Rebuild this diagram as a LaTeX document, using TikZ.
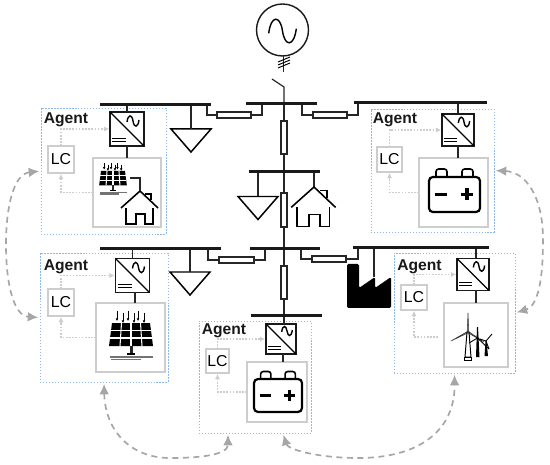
\documentclass[tikz,border=0pt]{standalone}
\usepackage{fontspec}
\usetikzlibrary{arrows.meta}
\setmainfont{Liberation Sans}
\definecolor{framecol}{HTML}{8FB8EA}
\definecolor{boxcol}{HTML}{CDCDCD}
\definecolor{linkcol}{HTML}{A6A6A6}
\def\px{0.02cm}
\tikzset{
  busbar/.style={fill=black!90,inner sep=0pt,outer sep=0pt},
  resbox/.style={draw=black!85,fill=white,line width=0.7pt,inner sep=0pt,outer sep=0pt},
  convbox/.style={draw=black!90,fill=white,line width=0.8pt,inner sep=0pt,outer sep=0pt},
  lcbox/.style={draw=boxcol,fill=white,line width=0.65pt,inner sep=0pt,outer sep=0pt,font=\fontsize{9}{10}\selectfont},
  iconbox/.style={draw=boxcol,fill=white,line width=0.65pt,inner sep=0pt,outer sep=0pt},
  agentbox/.style={draw=framecol,line width=0.5pt,dash pattern=on 0.8pt off 0.9pt,inner sep=0pt,outer sep=0pt},
  agentname/.style={anchor=base west,inner sep=0pt,font=\fontsize{8.9}{10}\bfseries\selectfont,text=black!90},
  wire/.style={draw=black!85,line width=0.65pt},
  ctrl/.style={draw=boxcol,line width=0.6pt,dash pattern=on 0.9pt off 0.9pt,-{Latex[length=3pt,width=3pt]},shorten >=0.5pt},
  peer/.style={draw=linkcol,line width=0.95pt,dash pattern=on 3.4pt off 2.6pt,{Latex[length=6pt,width=5.5pt]}-{Latex[length=6pt,width=5.5pt]},shorten <=1pt,shorten >=1pt},
  tilde/.pic={\draw[line width=0.8pt] (-6,1) .. controls (-5,-7) and (-1,-7) .. (0,0) .. controls (1,7) and (5,7) .. (6,-1);},
  solar/.pic={
    \fill[black] (-19,0) -- (19,0) -- (22,23) -- (-22,23) -- cycle;
    \foreach \i in {-1,0,1} \draw[white,line width=0.6pt] ({\i*9.5},0) -- ({\i*11},23);
    \foreach \j in {7.5,15} \draw[white,line width=0.6pt] ({-19-\j*3/23},\j) -- ({19+\j*3/23},\j);
    \foreach \ax/\ay in {-14/-12,-8/-10,-3/-12,3/-10,7/-12,13/-10}
      \draw[line width=0.35pt,-{Latex[length=1.5pt,width=1.5pt]}] (\ax,\ay) -- (\ax,{\ay+10});
    \fill[black!85] (-1.5,23) rectangle (1.5,30);
    \fill[black] (-4,29.5) rectangle (4,32);
    \draw[black!55,line width=0.6pt] (-21,34) -- (22,34);
    \draw[black!55,line width=0.6pt] (-20,36.5) -- (10,36.5);
  },
  house/.pic={
    \draw[line width=0.9pt,line join=miter] (-19,17) -- (0,0) -- (18,17);
    \draw[line width=0.9pt] (5,3) -- (11,3) -- (11,9);
    \draw[line width=0.9pt] (-14,17) -- (-14,33) -- (-4,33) -- (-4,23) -- (5,23) -- (5,33) -- (13,33) -- (13,17);
  },
  battery/.pic={
    \draw[line width=1.25pt,rounded corners=2.2pt] (-25.5,-17.5) rectangle (25.5,17.5);
    \draw[line width=0.9pt,rounded corners=1.5pt] (-18.5,-17.5) -- (-18.5,-25.5) -- (-7.5,-25.5) -- (-7.5,-17.5);
    \draw[line width=0.9pt,rounded corners=1.5pt] (7.5,-17.5) -- (7.5,-25.5) -- (18.5,-25.5) -- (18.5,-17.5);
    \draw[line width=1.9pt] (-19.5,0) -- (-7.5,0);
    \draw[line width=1.9pt] (6.5,0) -- (18.5,0);
    \draw[line width=1.9pt] (12.5,-6) -- (12.5,6);
  },
  turbine/.pic={
    \filldraw[black!80,fill=black!35,line width=0.3pt] (-0.8,0) -- (0,-19) -- (0.8,0) -- cycle;
    \filldraw[black!80,fill=black!35,line width=0.3pt] (0,-0.8) -- (-17,9) -- (0,0.8) -- cycle;
    \filldraw[black!80,fill=black!35,line width=0.3pt] (0,-0.8) -- (16,10) -- (0,0.8) -- cycle;
    \draw[line width=0.55pt] (-1,0) -- (-3,25) -- (3,25) -- (1,0);
    \draw[line width=0.55pt] (-3.5,25) rectangle (3.5,28);
  },
}
% rectangle from corner to corner
\newcommand{\rectnode}[7]{\node[#1,minimum width={(#5-#3)*\px},minimum height={(#6-#4)*\px}] (#2) at ({(#3+#5)/2},{(#4+#6)/2}) {#7};}
\newcommand{\convnode}[4]{%
  \node[convbox,minimum size={#4*\px}] (#1) at (#2,#3) {};
  \draw[line width=0.7pt] (#1.north west) -- (#1.south east);
  \pic[scale=#4/34] at ([xshift=6*\px,yshift=8*\px]#1.center) {tilde};
  \draw[line width=0.5pt] ([xshift=2*\px,yshift=8*\px]#1.south west) -- ++({#4*0.42},0);
  \draw[line width=0.5pt] ([xshift=2*\px,yshift=5*\px]#1.south west) -- ++({#4*0.42},0);}
\newcommand{\loadtri}[3]{%
  \coordinate (#1) at (#2,#3);
  \draw[line width=0.85pt] (#1) ++(-20,0) -- ++(40,0) -- ++(-20,23) -- cycle;}
\begin{document}
\begin{tikzpicture}[x=0.02cm,y=-0.02cm,line cap=butt]
  \useasboundingbox (0,0) rectangle (550,465);
  % bus bars
  \rectnode{busbar}{busa}{100}{103.5}{211}{106.5}{}
  \rectnode{busbar}{busb}{246}{102.5}{317}{105.5}{}
  \rectnode{busbar}{busr}{354}{101.5}{487}{104.5}{}
  \rectnode{busbar}{busm}{249}{170.5}{320}{173.5}{}
  \rectnode{busbar}{busc}{100}{247.5}{221}{250.5}{}
  \rectnode{busbar}{busd}{250}{247.5}{320}{250.5}{}
  \rectnode{busbar}{buse}{353}{246.5}{489}{249.5}{}
  \rectnode{busbar}{busf}{251}{314.5}{322}{317.5}{}
  % source
  \node[circle,draw=black!90,line width=0.8pt,minimum size={52*\px},inner sep=0pt,outer sep=0pt] (gen) at (282.5,30) {};
  \pic[scale=2.3] at (282.5,31) {tilde};
  \coordinate (swtop) at (272,79);
  \coordinate (swpin) at (284,87);
  \coordinate (genend) at (283.5,72);
  \draw[wire] (gen.south -| genend) -- (genend);
  \foreach \dy in {0,3,6} \draw[line width=0.55pt] (278,{62+\dy}) -- (290,{57+\dy});
  \draw[wire] (swtop) -- (swpin) -- (swpin |- busb.north);
  % line elements
  \rectnode{resbox}{rva}{281}{121}{287}{154}{}
  \rectnode{resbox}{rvb}{281}{193}{287}{227}{}
  \rectnode{resbox}{rvc}{281}{266}{287}{299}{}
  \rectnode{resbox}{rha}{217}{112}{251}{118}{}
  \rectnode{resbox}{rhb}{313}{112}{347}{118}{}
  \rectnode{resbox}{rhc}{219}{257}{254}{263}{}
  \rectnode{resbox}{rhd}{312}{256}{346}{262}{}
  \draw[wire] (rva.north) -- (rva.north |- busb.south);
  \draw[wire] (rva.south) -- (rva.south |- busm.north);
  \draw[wire] (rvb.north) -- (rvb.north |- busm.south);
  \draw[wire] (rvb.south) -- (rvb.south |- busd.north);
  \draw[wire] (rvc.north) -- (rvc.north |- busd.south);
  \draw[wire] (rvc.south) -- (rvc.south |- busf.north);
  \draw[wire] ([xshift=-4*\px]busa.south east) |- (rha.west);
  \draw[wire] (rha.east) -| ([xshift=16*\px]busb.south west);
  \draw[wire] ([xshift=-15*\px]busb.south east) |- (rhb.west);
  \draw[wire] (rhb.east) -| ([xshift=4*\px]busr.south west);
  \draw[wire] ([xshift=-13*\px]busc.south east) |- (rhc.west);
  \draw[wire] (rhc.east) -| ([xshift=15*\px]busd.south west);
  \draw[wire] ([xshift=-19*\px]busd.south east) |- (rhd.west);
  \draw[wire] (rhd.east) -| ([xshift=5*\px]buse.south west);
  % loads
  \loadtri{loada}{191}{129}
  \loadtri{loadm}{258}{196.5}
  \loadtri{loadc}{190}{272}
  \draw[wire] (loada) -- (loada |- busa.south);
  \draw[wire] (loadm) -- (loadm |- busm.south);
  \draw[wire] (loadc) -- (loadc |- busc.south);
  \coordinate (housem) at (314,187);
  \draw[wire] (housem) -- (housem |- busm.south);
  \pic[scale=1.2] at (housem) {house};
  \coordinate (factory) at (374,277);
  \draw[wire] (factory) -- (factory |- buse.south);
  \fill[black,rounded corners=0.8pt] (347,264) -- (359,264) -- (359,288) -- (375,277) -- (375,288) -- (391,277) -- (391,308) -- (347,308) -- cycle;
  % agents
  \rectnode{agentbox}{agenta}{41}{108}{166}{234}{}
  \rectnode{agentbox}{agentb}{371}{109}{494}{232}{}
  \rectnode{agentbox}{agentc}{40}{253}{168}{382}{}
  \rectnode{agentbox}{agentd}{394}{253}{515}{373}{}
  \rectnode{agentbox}{agente}{199}{321}{311}{433}{}
  \node[agentname] (namea) at (43.5,124) {Agent};
  \node[agentname] (nameb) at (372.5,124) {Agent};
  \node[agentname] (namec) at (43.5,271) {Agent};
  \node[agentname] (named) at (397,271) {Agent};
  \node[agentname] (namee) at (201.5,335) {Agent};
  \convnode{conva}{127}{129}{34}
  \convnode{convb}{458}{130}{32}
  \convnode{convc}{132.5}{275.5}{34}
  \convnode{convd}{473}{274.5}{32}
  \convnode{conve}{281}{339}{30}
  \rectnode{lcbox}{lca}{48}{146}{74}{173}{LC}
  \rectnode{lcbox}{lcb}{377}{147}{402}{172}{LC}
  \rectnode{lcbox}{lcc}{48}{289}{74}{316}{LC}
  \rectnode{lcbox}{lcd}{401}{285}{427}{310}{LC}
  \rectnode{lcbox}{lce}{206}{349}{229}{373}{LC}
  \rectnode{iconbox}{boxa}{93}{158}{161}{227}{}
  \rectnode{iconbox}{boxb}{419}{158}{488}{227}{}
  \rectnode{iconbox}{boxc}{96}{303}{165}{372}{}
  \rectnode{iconbox}{boxd}{444}{303}{508}{367}{}
  \rectnode{iconbox}{boxe}{247}{362}{307}{422}{}
  \draw[wire] (conva.north) -- (conva.north |- busa.south);
  \draw[wire] (conva.south) -- (conva.south |- boxa.north);
  \draw[wire] (convb.north) -- (convb.north |- busr.south);
  \draw[wire] (convb.south) -- (convb.south |- boxb.north);
  \draw[wire] (convc.north) -- (convc.north |- busc.south);
  \draw[wire] ([xshift=2.5*\px]convc.south) -- ([xshift=2.5*\px]convc.south |- boxc.north);
  \draw[wire] ([xshift=3*\px]convd.north) -- ([xshift=3*\px]convd.north |- buse.south);
  \draw[wire] ([xshift=3*\px]convd.south) -- ([xshift=3*\px]convd.south |- boxd.north);
  \draw[wire] ([xshift=3*\px]conve.north) -- ([xshift=3*\px]conve.north |- busf.south);
  \draw[wire] ([xshift=2*\px]conve.south) -- ([xshift=2*\px]conve.south |- boxe.north);
  % control paths
  \coordinate (tapd) at (438,337);
  \draw[ctrl] (lca.north) |- (conva.west);
  \draw[ctrl] (boxa.west) -| (lca.south);
  \draw[ctrl] (lcb.north) |- (convb.west);
  \draw[ctrl] (boxb.west) -| (lcb.south);
  \draw[ctrl] (lcc.north) |- (convc.west);
  \draw[ctrl] (boxc.west) -| (lcc.south);
  \draw[ctrl] (lcd.north) |- (convd.west);
  \draw[ctrl] (tapd) -| (lcd.south);
  \draw[ctrl] (lce.north) |- (conve.west);
  \draw[ctrl] (boxe.west) -| (lce.south);
  % icons
  \pic[scale=0.63] at (113,171) {solar};
  \pic at (140,191) {house};
  \draw[wire,line width=0.9pt] (130,178) -- (140,178) -- (140,191);
  \pic at (454.5,194.5) {battery};
  \pic at (131,323) {solar};
  \pic[scale=0.94] at (278,395.5) {battery};
  \pic at (468,332) {turbine};
  \fill[black] (476,357) -- (477,327) -- (478,327) -- (479.5,357) -- cycle;
  \draw[line width=0.5pt] (469,343) -- (477.5,338) -- (489,349);
  \fill[black] (484.5,356) -- (485.5,341) -- (486.5,341) -- (488,356) -- cycle;
  \draw[line width=0.5pt] (492,334) -- (486,341) -- (480,339);
  \draw[line width=0.5pt] (486,341) -- (489,349);
  % agent to agent links
  \draw[peer] (agenta.west) .. controls (14,174) and (6,205) .. (6,245) .. controls (6,285) and (14,316) .. (agentc.west);
  \draw[peer] (agentb.east) .. controls (525,172) and (543,195) .. (543,240) .. controls (543,280) and (538,306) .. (agentd.east);
  \draw[peer] (agentc.south) .. controls (105,430) and (130,458) .. (170,458) .. controls (200,458) and (228,455) .. ([xshift=-27*\px]agente.south);
  \draw[peer] ([xshift=28*\px]agente.south) .. controls (288,450) and (320,458) .. (358,458) .. controls (420,458) and (455,430) .. (agentd.south);
\end{tikzpicture}
\end{document}
